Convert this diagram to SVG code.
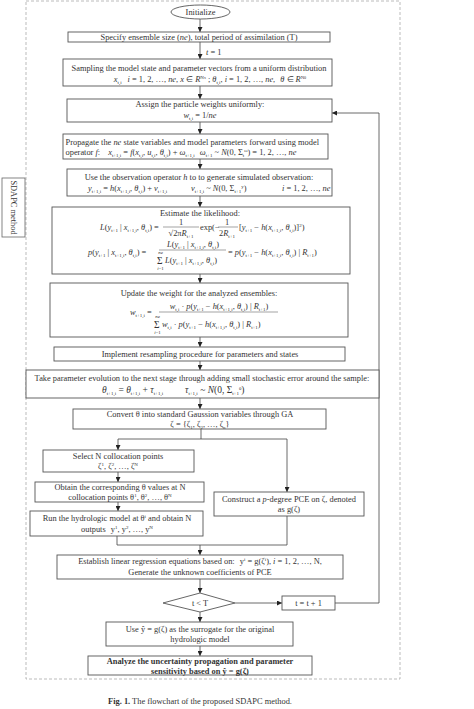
<svg xmlns="http://www.w3.org/2000/svg" width="474" height="709" viewBox="0 0 474 709">
<style>
text{font-family:"Liberation Serif","Times New Roman",serif;font-size:8.4px;fill:#333}
.c{text-anchor:middle}
.m{font-style:italic}
.s{font-size:5px}
.b{font-weight:bold}
.box{fill:#fff;stroke:#555;stroke-width:0.9}
.ln{fill:none;stroke:#444;stroke-width:0.8}
.big{font-size:9.5px}
.bar{stroke:#444;stroke-width:0.5}
</style>
<defs>
<marker id="ah" markerUnits="userSpaceOnUse" markerWidth="5" markerHeight="5" viewBox="0 0 5 5" refX="5" refY="2.5" orient="auto">
<path d="M0,0 L5,2.5 L0,5 z" fill="#222"/>
</marker>
</defs>
<rect width="474" height="709" fill="#fff"/>
<rect x="26" y="1" width="374" height="678" fill="none" stroke="#aaa" stroke-width="0.8" stroke-dasharray="3,2"/>

<g id="connectors">
<line class="ln" x1="200" y1="19" x2="200" y2="32" marker-end="url(#ah)"/>
<line class="ln" x1="200" y1="42" x2="200" y2="59" marker-end="url(#ah)"/>
<line class="ln" x1="200" y1="86" x2="200" y2="99" marker-end="url(#ah)"/>
<line class="ln" x1="200" y1="122" x2="200" y2="134" marker-end="url(#ah)"/>
<line class="ln" x1="200" y1="159" x2="200" y2="169" marker-end="url(#ah)"/>
<line class="ln" x1="200" y1="196" x2="200" y2="207" marker-end="url(#ah)"/>
<line class="ln" x1="200" y1="274" x2="200" y2="283" marker-end="url(#ah)"/>
<line class="ln" x1="200" y1="337" x2="200" y2="347" marker-end="url(#ah)"/>
<line class="ln" x1="200" y1="361" x2="200" y2="370" marker-end="url(#ah)"/>
<line class="ln" x1="200" y1="398" x2="200" y2="409" marker-end="url(#ah)"/>
<line class="ln" x1="201" y1="429" x2="201" y2="439"/>
<polyline class="ln" points="118,439 287,439"/>
<line class="ln" x1="118" y1="439" x2="118" y2="450" marker-end="url(#ah)"/>
<line class="ln" x1="287" y1="439" x2="287" y2="492" marker-end="url(#ah)"/>
<line class="ln" x1="118" y1="472" x2="118" y2="482" marker-end="url(#ah)"/>
<line class="ln" x1="118" y1="502" x2="118" y2="511" marker-end="url(#ah)"/>
<polyline class="ln" points="117,536 117,545 287,545 287,516"/>
<line class="ln" x1="200" y1="545" x2="200" y2="555" marker-end="url(#ah)"/>
<line class="ln" x1="200" y1="579" x2="200" y2="593" marker-end="url(#ah)"/>
<line class="ln" x1="235" y1="603" x2="282" y2="603" marker-end="url(#ah)"/>
<polyline class="ln" points="335,603 379,603 379,113 332,113" marker-end="url(#ah)"/>
<line class="ln" x1="200" y1="612" x2="200" y2="622" marker-end="url(#ah)"/>
<line class="ln" x1="200" y1="646" x2="200" y2="656" marker-end="url(#ah)"/>
<text x="206" y="54.5" class="m">t<tspan font-style="normal"> = 1</tspan></text>
</g>

<g id="sdapc-label">
<rect x="2" y="178" width="23" height="59" fill="#fff" stroke="#666" stroke-width="0.8"/>
<text transform="translate(10.5,207.5) rotate(90)" class="c">SDAPC method</text>
</g>

<g id="initialize">
<ellipse cx="200.5" cy="12" rx="29.5" ry="7" class="box"/>
<text x="200.5" y="15" class="c">Initialize</text>
</g>

<g id="specify">
<rect x="68" y="32" width="262" height="10" class="box"/>
<text x="199" y="40" class="c">Specify ensemble size (<tspan class="m">ne</tspan>), total period of assimilation (T)</text>
</g>

<g id="sampling">
<rect x="63" y="59" width="269" height="27" class="box"/>
<text x="199" y="71" class="c">Sampling the model state and parameter vectors from a uniform distribution</text>
<text x="210" y="81.5" class="c"><tspan class="m">x</tspan><tspan class="s" baseline-shift="-1.5">t,i</tspan><tspan dx="6" class="m">i</tspan> = 1, 2, …, <tspan class="m">ne</tspan>, <tspan class="m">x</tspan> ∈ <tspan class="m">R</tspan><tspan class="s" baseline-shift="3">N<tspan font-size="3.8">x</tspan></tspan> ; <tspan class="m">θ</tspan><tspan class="s" baseline-shift="-1.5">t,i</tspan>, <tspan class="m">i</tspan> = 1, 2, …, <tspan class="m">ne</tspan>, <tspan dx="3" class="m">θ</tspan> ∈ <tspan class="m">R</tspan><tspan class="s" baseline-shift="3">N<tspan font-size="3.8">θ</tspan></tspan></text>
</g>

<g id="assign">
<rect x="67" y="99" width="265" height="23" class="box"/>
<text x="200" y="107" class="c">Assign the particle weights uniformly:</text>
<text x="200" y="117.5" class="c"><tspan class="m">w</tspan><tspan class="s" baseline-shift="-1.5">t,i</tspan> = 1/<tspan class="m">ne</tspan></text>
</g>

<g id="propagate">
<rect x="63" y="134" width="265" height="25" class="box"/>
<text x="65.5" y="144.5">Propagate the <tspan class="m">ne</tspan> state variables and model parameters forward using model</text>
<text x="65.5" y="155">operator <tspan class="m">f</tspan>:<tspan dx="8" class="m">x</tspan><tspan class="s" baseline-shift="-1.5">t+1,i</tspan> = <tspan class="m">f</tspan>(<tspan class="m">x</tspan><tspan class="s" baseline-shift="-1.5">t,i</tspan>, <tspan class="m">u</tspan><tspan class="s" baseline-shift="-1.5">t,i</tspan>, <tspan class="m">θ</tspan><tspan class="s" baseline-shift="-1.5">t,i</tspan>) + <tspan class="m">ω</tspan><tspan class="s" baseline-shift="-1.5">t+1,i</tspan><tspan dx="5" class="m">ω</tspan><tspan class="s" baseline-shift="-1.5">t+1</tspan> ~ <tspan class="m">N</tspan>(0, Σ<tspan class="s" baseline-shift="-1.5">t</tspan><tspan class="s" baseline-shift="3">ω</tspan>) = 1, 2, …, <tspan class="m">ne</tspan></text>
</g>

<g id="observation">
<rect x="67" y="169" width="265" height="27" class="box"/>
<text x="199" y="179.5" class="c">Use the observation operator <tspan class="m">h</tspan> to to generate simulated observation:</text>
<text x="88" y="191"><tspan class="m">y</tspan><tspan class="s" baseline-shift="-1.5">t+1,i</tspan> = <tspan class="m">h</tspan>(<tspan class="m">x</tspan><tspan class="s" baseline-shift="-1.5">t+1,i</tspan>, <tspan class="m">θ</tspan><tspan class="s" baseline-shift="-1.5">t,i</tspan>) + <tspan class="m">v</tspan><tspan class="s" baseline-shift="-1.5">t+1,i</tspan></text>
<text x="191" y="191"><tspan class="m">v</tspan><tspan class="s" baseline-shift="-1.5">t+1,i</tspan> ~ <tspan class="m">N</tspan>(0, Σ<tspan class="s" baseline-shift="-1.5">t+1</tspan><tspan class="s" baseline-shift="3">y</tspan>)</text>
<text x="282" y="191"><tspan class="m">i</tspan> = 1, 2, …, <tspan class="m">ne</tspan></text>
</g>

<g id="likelihood">
<rect x="52" y="207" width="298" height="67" class="box"/>
<text x="200" y="216" class="c">Estimate the likelihood:</text>
<text x="100" y="230"><tspan class="m">L</tspan>(<tspan class="m">y</tspan><tspan class="s" baseline-shift="-1.5">t+1</tspan> | <tspan class="m">x</tspan><tspan class="s" baseline-shift="-1.5">t+1,i</tspan>, <tspan class="m">θ</tspan><tspan class="s" baseline-shift="-1.5">t,i</tspan>) =</text>
<text x="181" y="225" class="c">1</text>
<line class="bar" x1="163" y1="227" x2="199" y2="227"/>
<text x="181" y="235.5" class="c">√2π<tspan class="m">R</tspan><tspan class="s" baseline-shift="-1.5">t+1</tspan></text>
<text x="200" y="230">exp(−</text>
<text x="227" y="225" class="c">1</text>
<line class="bar" x1="218" y1="227" x2="238" y2="227"/>
<text x="227" y="235.5" class="c">2<tspan class="m">R</tspan><tspan class="s" baseline-shift="-1.5">t+1</tspan></text>
<text x="239" y="230">[<tspan class="m">y</tspan><tspan class="s" baseline-shift="-1.5">t+1</tspan> − <tspan class="m">h</tspan>(<tspan class="m">x</tspan><tspan class="s" baseline-shift="-1.5">t+1,i</tspan>, <tspan class="m">θ</tspan><tspan class="s" baseline-shift="-1.5">t,i</tspan>)]<tspan class="s" baseline-shift="3">2</tspan>)</text>
<text x="88" y="255"><tspan class="m">p</tspan>(<tspan class="m">y</tspan><tspan class="s" baseline-shift="-1.5">t+1</tspan> | <tspan class="m">x</tspan><tspan class="s" baseline-shift="-1.5">t+1,i</tspan>, <tspan class="m">θ</tspan><tspan class="s" baseline-shift="-1.5">t,i</tspan>) =</text>
<text x="193" y="247" class="c"><tspan class="m">L</tspan>(<tspan class="m">y</tspan><tspan class="s" baseline-shift="-1.5">t+1</tspan> | <tspan class="m">x</tspan><tspan class="s" baseline-shift="-1.5">t+1,i</tspan>, <tspan class="m">θ</tspan><tspan class="s" baseline-shift="-1.5">t,i</tspan>)</text>
<line class="bar" x1="159" y1="250" x2="226" y2="250"/>
<text x="157" y="264" class="big">Σ</text>
<text x="160.5" y="254.2" class="s c m">ne</text>
<text x="160.5" y="270" class="s c m">i<tspan font-style="normal">=1</tspan></text>
<text x="165" y="263"><tspan class="m">L</tspan>(<tspan class="m">y</tspan><tspan class="s" baseline-shift="-1.5">t+1</tspan> | <tspan class="m">x</tspan><tspan class="s" baseline-shift="-1.5">t+1,i</tspan>, <tspan class="m">θ</tspan><tspan class="s" baseline-shift="-1.5">t,i</tspan>)</text>
<text x="228" y="255">= <tspan class="m">p</tspan>(<tspan class="m">y</tspan><tspan class="s" baseline-shift="-1.5">t+1</tspan> − <tspan class="m">h</tspan>(<tspan class="m">x</tspan><tspan class="s" baseline-shift="-1.5">t+1,i</tspan>, <tspan class="m">θ</tspan><tspan class="s" baseline-shift="-1.5">t,i</tspan>) | <tspan class="m">R</tspan><tspan class="s" baseline-shift="-1.5">t+1</tspan>)</text>
</g>

<g id="update">
<rect x="50" y="283" width="298" height="54" class="box"/>
<text x="199" y="296" class="c">Update the weight for the analyzed ensembles:</text>
<text x="130" y="314.5"><tspan class="m">w</tspan><tspan class="s" baseline-shift="-1.5">t+1,i</tspan> =</text>
<text x="219" y="308.5" class="c"><tspan class="m">w</tspan><tspan class="s" baseline-shift="-1.5">t,i</tspan> · <tspan class="m">p</tspan>(<tspan class="m">y</tspan><tspan class="s" baseline-shift="-1.5">t+1</tspan> − <tspan class="m">h</tspan>(<tspan class="m">x</tspan><tspan class="s" baseline-shift="-1.5">t+1,i</tspan>, <tspan class="m">θ</tspan><tspan class="s" baseline-shift="-1.5">t,i</tspan>) | <tspan class="m">R</tspan><tspan class="s" baseline-shift="-1.5">t+1</tspan>)</text>
<line class="bar" x1="159" y1="312" x2="278" y2="312"/>
<text x="154" y="328" class="big">Σ</text>
<text x="157.5" y="318.2" class="s c m">ne</text>
<text x="157.5" y="334" class="s c m">i<tspan font-style="normal">=1</tspan></text>
<text x="162" y="327"><tspan class="m">w</tspan><tspan class="s" baseline-shift="-1.5">t,i</tspan> · <tspan class="m">p</tspan>(<tspan class="m">y</tspan><tspan class="s" baseline-shift="-1.5">t+1</tspan> − <tspan class="m">h</tspan>(<tspan class="m">x</tspan><tspan class="s" baseline-shift="-1.5">t+1,i</tspan>, <tspan class="m">θ</tspan><tspan class="s" baseline-shift="-1.5">t,i</tspan>) | <tspan class="m">R</tspan><tspan class="s" baseline-shift="-1.5">t+1</tspan>)</text>
</g>

<g id="resampling">
<rect x="54" y="347" width="291" height="14" class="box"/>
<text x="200" y="357" class="c">Implement resampling procedure for parameters and states</text>
</g>

<g id="evolution">
<rect x="26" y="370" width="353" height="28" class="box"/>
<text x="202" y="381" class="c">Take parameter evolution to the next stage through adding small stochastic error around the sample:</text>
<text x="102" y="392.5" class="big"><tspan class="m">θ</tspan><tspan class="s" baseline-shift="-1.5">t+1,i</tspan> = <tspan class="m">θ</tspan><tspan class="s" baseline-shift="-1.5">t+1,i</tspan> + <tspan class="m">τ</tspan><tspan class="s" baseline-shift="-1.5">t+1,i</tspan></text>
<text x="185" y="392.5" class="big"><tspan class="m">τ</tspan><tspan class="s" baseline-shift="-1.5">t+1,i</tspan> ~ <tspan class="m">N</tspan>(0, Σ<tspan class="s" baseline-shift="-1.5">t+1</tspan><tspan class="s" baseline-shift="3">θ</tspan>)</text>
</g>

<g id="convert">
<rect x="73" y="409" width="253" height="20" class="box"/>
<text x="200" y="416.5" class="c">Convert θ into standard Gaussion variables through GA</text>
<text x="200" y="426.5" class="c">ζ = {ζ<tspan class="s" baseline-shift="-1.5">1</tspan>, ζ<tspan class="s" baseline-shift="-1.5">2</tspan>, …, ζ<tspan class="s" baseline-shift="-1.5">n</tspan>}</text>
</g>

<g id="select">
<rect x="43" y="450" width="151" height="22" class="box"/>
<text x="118" y="458.5" class="c">Select N collocation points</text>
<text x="118" y="468.5" class="c">ζ<tspan class="s" baseline-shift="3">1</tspan>, ζ<tspan class="s" baseline-shift="3">2</tspan>, …, ζ<tspan class="s" baseline-shift="3">N</tspan></text>
</g>

<g id="obtain">
<rect x="35" y="482" width="169" height="20" class="box"/>
<text x="120" y="489.5" class="c">Obtain the corresponding θ values at N</text>
<text x="120" y="499.5" class="c">collocation points θ<tspan class="s" baseline-shift="3">1</tspan>, θ<tspan class="s" baseline-shift="3">2</tspan>, …, θ<tspan class="s" baseline-shift="3">N</tspan></text>
</g>

<g id="run">
<rect x="30" y="511" width="173" height="25" class="box"/>
<text x="117" y="521" class="c">Run the hydrologic model at θ<tspan class="s" baseline-shift="3">i</tspan> and obtain N</text>
<text x="117" y="531.5" class="c">outputs <tspan dx="3">y</tspan><tspan class="s" baseline-shift="3">1</tspan>, y<tspan class="s" baseline-shift="3">2</tspan>, …, y<tspan class="s" baseline-shift="3">N</tspan></text>
</g>

<g id="construct">
<rect x="214" y="492" width="150" height="24" class="box"/>
<text x="289" y="501.5" class="c">Construct a <tspan class="m">p</tspan>-degree PCE on ζ, denoted</text>
<text x="289" y="512" class="c">as g(ζ)</text>
</g>

<g id="regression">
<rect x="57" y="555" width="286" height="24" class="box"/>
<text x="200" y="564" class="c">Establish linear regression equations based on: <tspan dx="3">y</tspan><tspan class="s" baseline-shift="3">i</tspan> = g(ζ<tspan class="s" baseline-shift="3">i</tspan>), <tspan class="m">i</tspan> = 1, 2, …, N,</text>
<text x="200" y="574.5" class="c">Generate the unknown coefficients of PCE</text>
</g>

<g id="decision">
<polygon points="200,593 235,603 200,612 163,603" class="box"/>
<text x="200" y="606" class="c">t &lt; T</text>
</g>

<g id="increment">
<rect x="282" y="596" width="53" height="14" class="box"/>
<text x="308.5" y="606" class="c">t = t + 1</text>
</g>

<g id="surrogate">
<rect x="106" y="622" width="187" height="24" class="box"/>
<text x="200" y="631.5" class="c">Use ŷ = g(ζ) as the surrogate for the original</text>
<text x="200" y="642" class="c">hydrologic model</text>
</g>

<g id="analyze">
<rect x="88" y="656" width="224" height="19" class="box"/>
<text x="200" y="664" class="c b">Analyze the uncertainty propagation and parameter</text>
<text x="200" y="673.5" class="c b">sensitivity based on ŷ = g(ζ)</text>
</g>

<text x="200" y="704" class="c"><tspan class="b">Fig. 1.</tspan> The flowchart of the proposed SDAPC method.</text>
</svg>
